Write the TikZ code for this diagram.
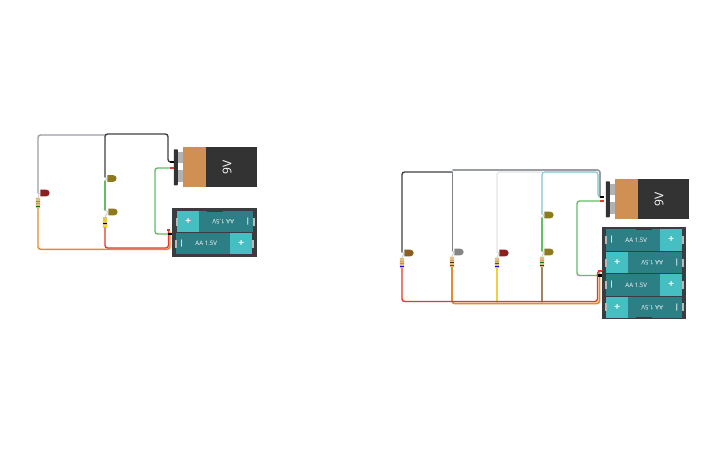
\documentclass[tikz,border=0pt]{standalone}
\usepackage{fontspec}
\setmainfont{Open Sans}
\usetikzlibrary{shapes.misc}
\definecolor{wgray}{HTML}{9A9EA2}
\definecolor{wdgray}{HTML}{7F8285}
\definecolor{wblack}{HTML}{3E4144}
\definecolor{wgreen}{HTML}{62BE62}
\definecolor{worange}{HTML}{E8892B}
\definecolor{wred}{HTML}{E2382E}
\definecolor{wwhite}{HTML}{E4E4E4}
\definecolor{wyellow}{HTML}{F0D040}
\definecolor{wcyan}{HTML}{7FC4CC}
\definecolor{wbrown}{HTML}{A5835F}
\definecolor{tealdark}{HTML}{2D7F86}
\definecolor{teallight}{HTML}{45BFC2}
\definecolor{holder}{HTML}{3A3D3F}
\definecolor{batdark}{HTML}{333333}
\definecolor{batorange}{HTML}{D08F53}
\definecolor{resbody}{HTML}{DDBE85}
\definecolor{ledolive}{HTML}{8E7A1E}
\definecolor{ledred}{HTML}{8C1F1F}
\definecolor{ledbrown}{HTML}{8A5E20}
\definecolor{ledgray}{HTML}{858585}
\tikzset{
  wire/.style={line width=1.05pt,rounded corners=2pt,line cap=round},
  lead/.style={draw=wwhite!80!gray,line width=0.7pt},
  ledbody/.style={rounded rectangle,rounded rectangle west arc=none,minimum width=7pt,minimum height=5pt,inner sep=0pt,draw=none},
  resnode/.style={rectangle,rounded corners=0.5pt,fill=resbody,minimum width=3.2pt,minimum height=8pt,inner sep=0pt},
  band/.style={rectangle,minimum width=3.2pt,minimum height=0.9pt,inner sep=0pt},
  cellbody/.style={rectangle,fill=tealdark,inner sep=0pt,anchor=north west},
  cellplus/.style={rectangle,fill=teallight,inner sep=0pt,anchor=north west,text=white},
  celltext/.style={text=white,font=\fontsize{4.6pt}{5pt}\selectfont,inner sep=0pt},
  holderbox/.style={rectangle,fill=holder,inner sep=0pt,anchor=north west},
  notch/.style={rectangle,fill=holder,inner sep=0pt,minimum width=12pt,minimum height=1.6pt},
  spring/.style={rectangle,fill=gray!55,inner sep=0pt,minimum width=1.5pt,minimum height=6pt},
  batbody/.style={rectangle,fill=batdark,inner sep=0pt,anchor=north west,minimum width=55.5pt,minimum height=30pt},
  batcap/.style={rectangle,fill=batorange,inner sep=0pt,anchor=north west,minimum width=17pt,minimum height=30pt},
  batbar/.style={rectangle,fill=black!80,rounded corners=0.5pt,inner sep=0pt,anchor=north west,minimum width=3pt,minimum height=27pt},
  batterm/.style={rectangle,fill=gray!60,inner sep=0pt,anchor=north west,minimum width=4.5pt},
  ninev/.style={text=white,font=\fontsize{9pt}{9pt}\selectfont,rotate=90,inner sep=0pt},
  pinmark/.style={rectangle,inner sep=0pt,minimum width=2.4pt,minimum height=1.6pt},
}
\newcommand{\myled}[4]{\node[ledbody,fill=#4,anchor=west] (#1) at (#2,#3) {};}
\newcommand{\myres}[6]{\node[resnode] (#1) at (#2,#3) {};
  \node[band,fill=#4] at ([yshift=1.3pt]#1.center) {};
  \node[band,fill=#5] at ([yshift=-0.6pt]#1.center) {};
  \node[band,fill=#6] at ([yshift=-2.6pt]#1.center) {};}
\newcommand{\cellR}[4]{\node[cellbody,minimum width=57pt,minimum height=15.8pt] (#1) at (#2,#3) {};
  \node[cellplus,minimum width=16.5pt,minimum height=15.8pt,font=\fontsize{7.5pt}{7.5pt}\selectfont\bfseries] (#1p) at (#4,#3) {+};
  \node[celltext] at ([xshift=-6pt]#1.center) {AA 1.5V};
  \node[celltext,font=\fontsize{5.5pt}{5.5pt}\selectfont\bfseries] at ([xshift=-24.5pt]#1.center) {|};
  \node[spring] at (#1.west) {};
  \node[spring] at (#1.east) {};}
\newcommand{\cellL}[4]{\node[cellbody,minimum width=57pt,minimum height=15.8pt] (#1) at (#2,#3) {};
  \node[cellplus,minimum width=16.5pt,minimum height=15.8pt,font=\fontsize{7.5pt}{7.5pt}\selectfont\bfseries] (#1p) at (#4,#3) {+};
  \node[celltext,rotate=180] at ([xshift=6pt]#1.center) {AA 1.5V};
  \node[celltext,font=\fontsize{5.5pt}{5.5pt}\selectfont\bfseries] at ([xshift=24.5pt]#1.center) {|};
  \node[spring] at (#1.west) {};
  \node[spring] at (#1.east) {};}
\newcommand{\ninevolt}[3]{%
  \node[batterm,minimum height=8.2pt] (#1ta) at (#2-6,#3+5) {};
  \node[batterm,minimum height=9pt] (#1tb) at (#2-6,#3+23) {};
  \node[batbar] (#1bar) at (#2-9.5,#3+2) {};
  \node[batbody] (#1) at (#2,#3) {};
  \node[batcap] (#1cap) at (#2,#3) {};
  \node[ninev] (#1txt) at (#2+44,#3+20) {9V};}
\begin{document}
\begin{tikzpicture}[x=0.75pt,y=-0.75pt]
\path[use as bounding box,fill=white] (0,0) rectangle (725,453);

% ---------- left circuit: parts ----------
\ninevolt{batA}{183}{147}
\node[holderbox,minimum width=63.7pt,minimum height=36.8pt] (holdA) at (172,208) {};
\cellL{cA}{177}{211}{177}
\cellR{cB}{176}{233}{230}
\node[notch] at (cA.north) {};
\node[notch] at (cB.south) {};
\coordinate (pA1) at (172,162);
\coordinate (pA2) at (172,168);
\coordinate (hA1) at (170,234);
\coordinate (hA2) at (168.5,230);

\myled{ledA}{40}{193}{ledred}
\myled{ledB}{107}{178.5}{ledolive}
\myled{ledC}{108}{212}{ledolive}
\myres{resA}{38}{203}{brown}{brown!60!resbody}{green!45!black}
\myres{resB}{105}{222.5}{yellow!70!orange}{black}{yellow!80!orange}
\coordinate (jA1) at (105,135);
\coordinate (cA1) at (38,193);
\coordinate (cB1) at (105,177);
\coordinate (cB2) at (105,181);
\coordinate (cC1) at (105,210);

% left wires
\draw[lead] (ledA.west) -- (cA1) (resA.north) -- (cA1);
\draw[lead] (ledB.west) -- (cB1) (ledB.west) -- (cB2);
\draw[lead] (ledC.west) -- (cC1) (ledC.west) -- (resB.north);
\draw[wire,wgray] (cA1) -- (38,135) -- (jA1);
\draw[wire,wblack] (cB1) -- (105,134) -- (168,134) -- (168,162) -- (pA1);
\draw[wire,wgreen] (cB2) -- (cC1);
\draw[wire,worange] (resA.south) -- (38,249.3) -- (170,249.3) -- (170,232);
\draw[wire,wred] (resB.south) -- (105,248) -- (168.5,248) -- (hA2);
\draw[wire,wgreen] (pA2) -- (155,168) -- (155,234) -- (hA1);
\node[pinmark,fill=black] at (pA1) {};
\node[pinmark,fill=wred] at (pA2) {};
\node[pinmark,fill=black] at (hA1) {};
\node[pinmark,fill=wred] at (hA2) {};

% ---------- right circuit: parts ----------
\ninevolt{batB}{615}{179}
\node[holderbox,minimum width=63pt,minimum height=69pt] (holdB) at (602,227) {};
\cellR{cC}{606}{229.2}{660}
\cellL{cD}{606}{252}{606}
\cellR{cE}{606}{274.2}{660}
\cellL{cF}{606}{296.5}{606}
\node[notch] at (cC.north) {};
\node[notch] at (cF.south) {};
\coordinate (pB1) at (602,197);
\coordinate (pB2) at (602,201);
\coordinate (hB1) at (600,275.5);
\coordinate (hB2) at (600,271);

\myled{ledD}{404}{253}{ledbrown}
\myled{ledE}{454}{252}{ledgray}
\myled{ledF}{499}{253}{ledred}
\myled{ledG}{544}{215}{ledolive}
\myled{ledH}{544}{252}{ledolive}
\myres{resD}{402}{263}{brown!50!resbody}{orange!70!brown}{blue}
\myres{resE}{452}{262}{brown!50!resbody}{black!60!brown}{green!50!black}
\myres{resF}{497}{263}{brown!50!resbody}{green!50!black}{blue}
\myres{resG}{542}{262}{brown!50!resbody}{green!50!black}{black!70!green}
\coordinate (cD1) at (402,252);
\coordinate (cE1) at (452,251);
\coordinate (cF1) at (497,252);
\coordinate (cG1) at (542,214);
\coordinate (cG2) at (542,218);
\coordinate (cH1) at (542,251);
\coordinate (jB1) at (452,172);

\draw[lead] (ledD.west) -- (cD1) (ledD.west) -- (resD.north);
\draw[lead] (ledE.west) -- (cE1) (ledE.west) -- (resE.north);
\draw[lead] (ledF.west) -- (cF1) (ledF.west) -- (resF.north);
\draw[lead] (ledG.west) -- (cG1) (ledG.west) -- (cG2);
\draw[lead] (ledH.west) -- (cH1) (ledH.west) -- (resG.north);

% right wires
\draw[wire,wgray,line width=1.3pt] (453,170) -- (600,170) -- (600,197);
\draw[wire,wwhite,line width=0.9pt] (cF1) -- (497,172) -- (542,172);
\draw[wire,wcyan,line width=0.8pt] (cG1) -- (542,172) -- (598,172) -- (598,197) -- (pB1);
\draw[wire,wblack] (cD1) -- (402,172) -- (jB1);
\draw[wire,wdgray,line width=0.7pt] (cE1) -- (jB1);
\draw[wire,wgreen] (cG2) -- (cH1);
\draw[wire,wgreen] (pB2) -- (577,201) -- (577,275.5) -- (hB1);
\draw[wire,wyellow] (resF.south) -- (497,302);
\draw[wire,wbrown,line width=0.8pt] (resG.south) -- (542,302);
\draw[wire,worange,line width=1.3pt] (resE.south) -- (452,303.5) -- (599.5,303.5) -- (599.5,273);
\draw[wire,wred] (resD.south) -- (402,301.5) -- (597.5,301.5) -- (597.5,271) -- (hB2);
\node[pinmark,fill=black] at (pB1) {};
\node[pinmark,fill=wred] at (pB2) {};
\node[pinmark,fill=black] at (hB1) {};
\node[pinmark,fill=wred] at (hB2) {};
\end{tikzpicture}
\end{document}
